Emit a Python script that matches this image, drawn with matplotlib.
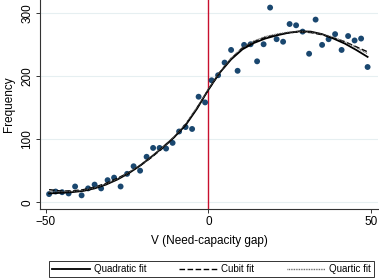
import numpy as np
import matplotlib
matplotlib.use("Agg")
import matplotlib.pyplot as plt
from matplotlib.lines import Line2D

plt.rcParams['font.family'] = ['Liberation Sans', 'DejaVu Sans']

# Data
v_gap = [-49, -47, -45, -43, -41, -39, -37, -35, -33, -31,
         -29, -27, -25, -23, -21, -19, -17, -15, -13, -11,
         -9, -7, -5, -3, -1, 1, 3, 5, 7, 9,
         11, 13, 15, 17, 19, 21, 23, 25, 27, 29,
         31, 33, 35, 37, 39, 41, 43, 45, 47, 49]
frequency = [13, 17, 16, 14, 25, 11, 22, 28, 22, 35,
             39, 25, 45, 57, 50, 72, 86, 86, 85, 94,
             112, 119, 116, 167, 158, 193, 201, 221, 241, 208,
             249, 250, 223, 250, 308, 258, 254, 282, 280, 270,
             235, 289, 249, 258, 266, 241, 263, 256, 259, 214]

# Fitted curves
fit_v = [-49, -45.5, -42, -38.5, -35, -31.5, -28, -24.5, -21, -17.5,
         -14, -10.5, -7, -3.5, 0, 3.5, 7, 10.5, 14, 17.5,
         21, 24.5, 28, 31.5, 35, 38.5, 42, 45.5, 49]
quadratic_fit = [14, 15, 16, 18, 22, 28, 36, 46, 58, 72,
                 87, 103, 122, 148, 178, 205, 226, 242, 252, 259,
                 264, 268, 270.5, 270, 266, 259, 251, 241, 230]
cubic_fit = [20, 18, 18, 20, 24, 30, 38, 47, 58, 71,
             86, 103, 123, 149, 178, 205, 227, 244, 254, 261,
             265, 268, 269.5, 268.5, 265, 260, 254, 246, 238]
quartic_fit = [17, 17, 17, 19, 23, 29, 37, 47, 59, 72,
               87, 104, 124, 150, 179, 206, 228, 245, 255, 262,
               266, 269, 270, 269, 266, 261, 254, 245, 235]

x_ticks = [-50, 0, 50]
y_ticks = [0, 100, 200, 300]
fit_labels = ["Quadratic fit", "Cubit fit", "Quartic fit"]

fig = plt.figure(figsize=(3.79, 2.78), dpi=100)
ax = fig.add_axes([40/379, 1 - 209/278, 338/379, 209/278])

navy = '#1a476f'
ax.set_xlim(-51.8, 52.2)
ax.set_ylim(-10.6, 320)

for yt in y_ticks:
    ax.axhline(yt, color='#e6eff1', lw=0.8, zorder=0)

ax.axvline(0, color='#c8102e', lw=1.0, zorder=1)

ax.scatter(v_gap, frequency, s=18, color=navy, edgecolors='none', zorder=3)

styles = [dict(color='black', lw=1.3, ls='-'),
          dict(color='black', lw=1.0, ls=(0, (4, 1.8))),
          dict(color='#555555', lw=1.0, ls=(0, (0.6, 0.6)))]
handles = []
for lab, vals, st in zip(fit_labels, [quadratic_fit, cubic_fit, quartic_fit], styles):
    ax.plot(fit_v, vals, zorder=4, solid_joinstyle='round', **st)
    handles.append(Line2D([], [], **st, label=lab))

for s in ['top', 'right']:
    ax.spines[s].set_visible(False)
for s in ['left', 'bottom']:
    ax.spines[s].set_color('#333333')
    ax.spines[s].set_linewidth(0.8)

ax.set_xticks(x_ticks)
ax.set_yticks(y_ticks)
ax.tick_params(axis='both', direction='out', length=3, width=0.7,
               color='#333333', labelsize=8.5, pad=2)
for lab in ax.get_yticklabels():
    lab.set_rotation(90)
    lab.set_va('center')

ax.set_xlabel("V (Need-capacity gap)", fontsize=8.5, labelpad=5)
ax.set_ylabel("Frequency", fontsize=8.5, labelpad=4)

leg = fig.legend(handles=handles, loc='lower center', ncol=3,
                 bbox_to_anchor=(211.5/379, 1/278), fontsize=7,
                 frameon=True, fancybox=False, edgecolor='black',
                 handlelength=3.9, columnspacing=3.4, handletextpad=0.4,
                 borderpad=0.3, borderaxespad=0)
leg.get_frame().set_linewidth(0.7)

fig.savefig("out.png", dpi=100)
